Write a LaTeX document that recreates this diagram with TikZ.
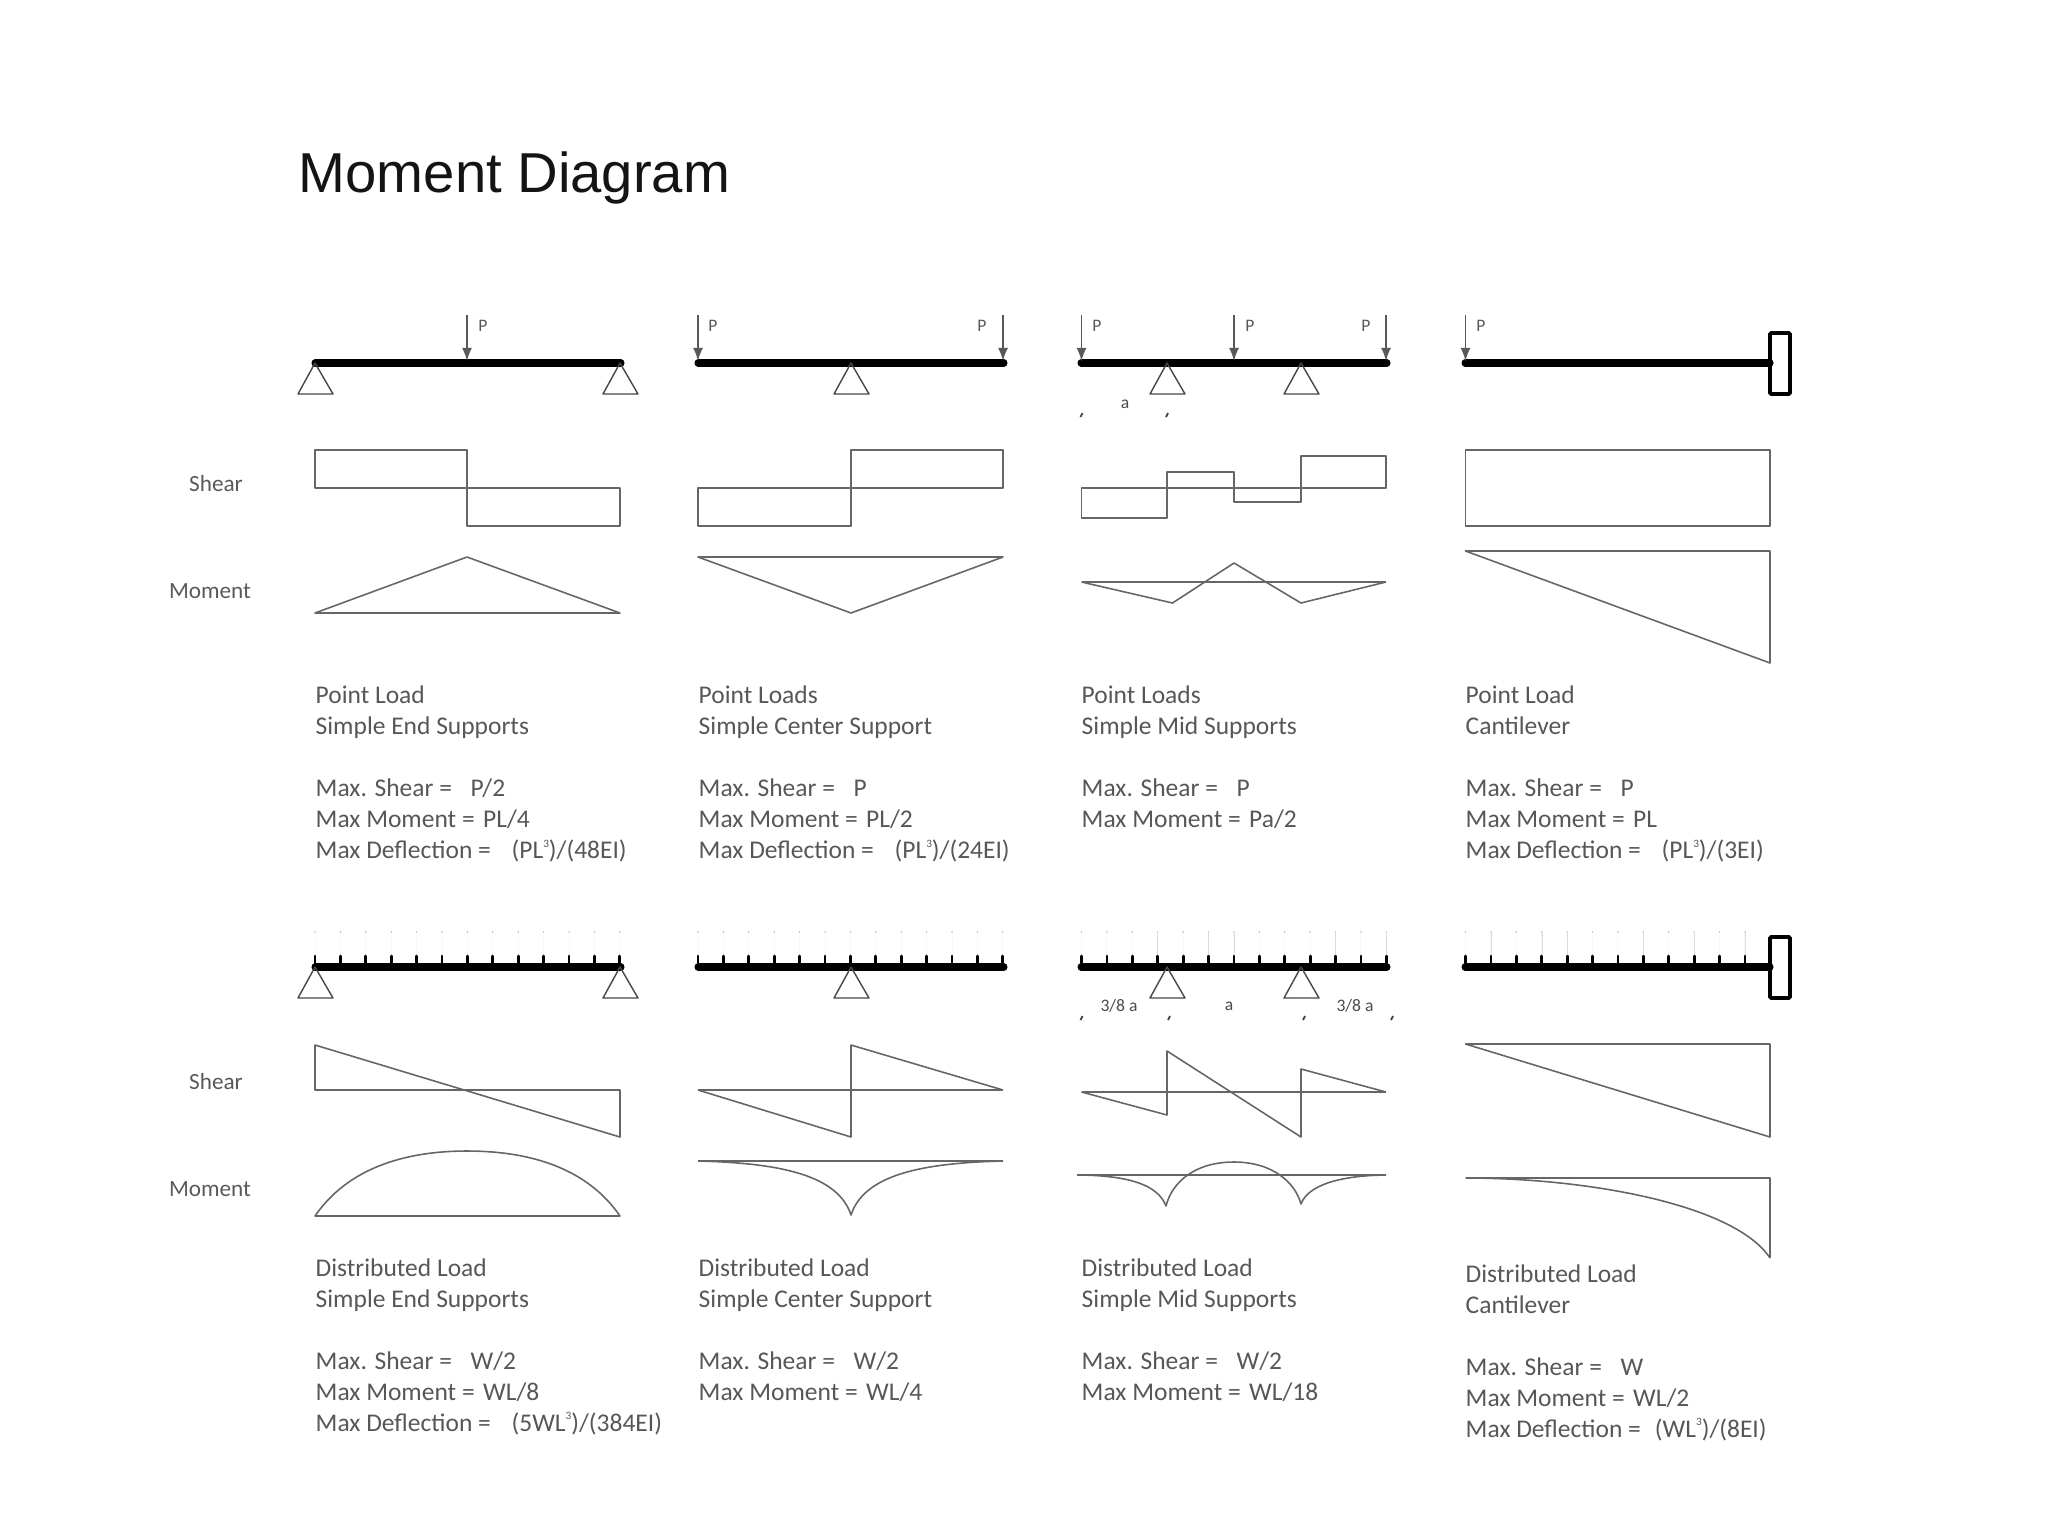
\documentclass[tikz,border=0pt]{standalone}
\usepackage{fontspec}
\usetikzlibrary{calc}
\setmainfont{Carlito}
\newfontfamily\titlefont{Liberation Sans}

\tikzset{
    beam/.style={line width=2pt,line cap=round,black},
    wall/.style={line width=1.1pt,rounded corners=0.4pt,black},
    curve/.style={line width=0.45pt,draw=black!60,line join=round},
    support/.style={line width=0.4pt,draw=black!72,line join=round},
    pointload/.style={line width=0.3pt,draw=black!65,-latex},
    stub/.style={line width=0.8pt,black,line cap=round},
    faint/.style={line width=0.25pt,draw=black!3},
    seenfaint/.style={line width=0.25pt,draw=black!14},
    dim/.style={line width=0.5pt,draw=black!75},
    sidelabel/.style={font=\fontsize{6.6}{8.8}\selectfont,text=black!65,inner sep=0pt},
    caption/.style={font=\fontsize{7.25}{8.8}\selectfont,text=black!66,align=left,anchor=north west,inner sep=0pt},
    plabel/.style={font=\fontsize{5}{6}\selectfont,text=black!65,inner sep=0pt},
    alabel/.style={font=\rmfamily\fontsize{5}{6}\selectfont,text=black!70,inner sep=0pt},
}
\newcommand{\cube}{\raisebox{0.45em}{\fontsize{3.2}{4}\selectfont 3}}
\newcommand{\shgap}{\hspace{5.3pt}}
\newcommand{\mogap}{\hspace{2.4pt}}
\newcommand{\degap}{\hspace{5.9pt}}

\begin{document}
\begin{tikzpicture}[x=0.01cm,y=-0.01cm]
    \useasboundingbox (0,0) rectangle (2048,1536);
    \node[font=\titlefont\fontsize{16}{19}\selectfont,text=black!92,anchor=base west,inner sep=0pt] (title) at (298,192) {Moment Diagram};

    % side labels
    \node[sidelabel] (shearA) at (216,484) {Shear};
    \node[sidelabel] (momentA) at (210,591) {Moment};
    \node[sidelabel] (shearB) at (216,1082) {Shear};
    \node[sidelabel] (momentB) at (210,1189) {Moment};

    % beams, both rows
    \foreach \y in {363,967} {
        \draw[beam] (315,\y)--(621,\y);
        \draw[beam] (698,\y)--(1004,\y);
        \draw[beam] (1081,\y)--(1387,\y);
        \draw[beam] (1465,\y)--(1770,\y);
    }
    \foreach \y/\t/\b in {363/333/394,967/937/998} {
        \draw[wall] (1770,\t) rectangle (1790,\b);
        % supports
        \foreach \x in {315,620,851,1167,1301} {
            \draw[support] (\x,\y)--(\x-17,\b)--(\x+18,\b)--cycle;
        }
    }

    % point loads
    \foreach \x in {467,698,1003,1081.5,1234,1386,1465.5} {
        \draw[pointload] (\x,315)--(\x,361);
    }
    \foreach \x/\n in {483/pa,713/pb,982/pc,1097/pd,1250/pe,1366/pf,1481/pg} {
        \node[plabel] (\n) at (\x,326) {P};
    }

    % distributed loads
    \foreach \xo/\last in {315/12,698/12,1081.5/12,1465.5/11} {
        \foreach \i in {0,...,\last} {
            \draw[faint] (\xo+\i*25.4,932)--(\xo+\i*25.4,955);
            \fill[black!25] (\xo+\i*25.4,932) circle (0.25pt);
            \draw[stub] (\xo+\i*25.4,956)--(\xo+\i*25.4,963);
        }
    }
    \foreach \x in {1157,1208,1234,1335,1386,1491,1542,1567,1643,1694,1745} {
        \draw[seenfaint] (\x,932)--(\x,955);
    }

    % dimension marks
    \foreach \x/\y in {1081.5/415,1167/415,1081.5/1018,1169/1018,1304/1018,1392/1018} {
        \draw[dim] (\x-1,\y+2)--(\x+1,\y-2);
    }
    \node[alabel] (dima) at (1125,404) {a};
    \node[alabel] (dimb) at (1119,1006) {3/8 a};
    \node[alabel] (dimc) at (1229,1006) {a};
    \node[alabel] (dimd) at (1355,1006) {3/8 a};

    % point load shear
    \draw[curve] (315,488)--(315,450)--(467,450)--(467,526)--(620,526)--(620,488)--cycle;
    \draw[curve] (698,488)--(698,526)--(851,526)--(851,450)--(1003,450)--(1003,488)--cycle;
    \draw[curve] (1081.5,488)--(1081.5,518)--(1167,518)--(1167,472)--(1234,472)--(1234,502)--(1301,502)--(1301,456)--(1386,456)--(1386,488)--cycle;
    \draw[curve] (1465.5,450) rectangle (1770,526);

    % point load moment
    \draw[curve] (315,613)--(467,557)--(620,613)--cycle;
    \draw[curve] (698,557)--(851,613)--(1003,557)--cycle;
    \draw[curve] (1081.5,582)--(1386,582);
    \draw[curve] (1081.5,582)--(1172.5,603)--(1234,563)--(1301,603)--(1386,582);
    \draw[curve] (1465.5,551)--(1770,551)--(1770,663)--cycle;

    % distributed shear
    \draw[curve] (315,1090)--(315,1045)--(620,1137)--(620,1090)--cycle;
    \draw[curve] (698,1090)--(1003,1090);
    \draw[curve] (698,1090)--(851,1137)--(851,1045)--(1003,1090);
    \draw[curve] (1081.5,1092)--(1386,1092);
    \draw[curve] (1081.5,1092)--(1167,1115)--(1167,1051)--(1301,1137)--(1301,1069)--(1386,1092);
    \draw[curve] (1465.5,1044)--(1770,1044)--(1770,1137)--cycle;

    % distributed moment
    \draw[curve] (315,1216) .. controls (348,1168) and (405,1151) .. (467,1151) .. controls (530,1151) and (587,1168) .. (620,1216)--cycle;
    \draw[curve] (698,1161)--(1003,1161);
    \draw[curve] (698,1161) .. controls (780,1163) and (838,1175) .. (851,1215) .. controls (864,1175) and (921,1163) .. (1003,1161);
    \draw[curve] (1077,1175)--(1386,1175);
    \draw[curve] (1081.5,1175) .. controls (1130,1176) and (1158,1185) .. (1166,1206) .. controls (1172,1182) and (1195,1162) .. (1234,1162) .. controls (1272,1162) and (1295,1182) .. (1301,1204) .. controls (1308,1185) and (1340,1175.5) .. (1386,1175);
    \draw[curve] (1465.5,1178)--(1770,1178)--(1770,1258);
    \draw[curve] (1465.5,1178) .. controls (1590,1178) and (1735,1205) .. (1770,1258);

    % captions, first row
    \node[caption] (capa) at (315,685.5) {Point Load\\Simple End Supports\\[8.8pt]Max. Shear =\shgap P/2\\Max Moment =\mogap PL/4\\Max Deflection =\degap (PL\cube)/(48EI)};
    \node[caption] (capb) at (698,685.5) {Point Loads\\Simple Center Support\\[8.8pt]Max. Shear =\shgap P\\Max Moment =\mogap PL/2\\Max Deflection =\degap (PL\cube)/(24EI)};
    \node[caption] (capc) at (1081,685.5) {Point Loads\\Simple Mid Supports\\[8.8pt]Max. Shear =\shgap P\\Max Moment =\mogap Pa/2};
    \node[caption] (capd) at (1465,685.5) {Point Load\\Cantilever\\[8.8pt]Max. Shear =\shgap P\\Max Moment =\mogap PL\\Max Deflection =\degap (PL\cube)/(3EI)};

    % captions, second row
    \node[caption] (cape) at (315,1258) {Distributed Load\\Simple End Supports\\[8.8pt]Max. Shear =\shgap W/2\\Max Moment =\mogap WL/8\\Max Deflection =\degap (5WL\cube)/(384EI)};
    \node[caption] (capf) at (698,1258) {Distributed Load\\Simple Center Support\\[8.8pt]Max. Shear =\shgap W/2\\Max Moment =\mogap WL/4};
    \node[caption] (capg) at (1081,1258) {Distributed Load\\Simple Mid Supports\\[8.8pt]Max. Shear =\shgap W/2\\Max Moment =\mogap WL/18};
    \node[caption] (caph) at (1465,1264) {Distributed Load\\Cantilever\\[8.8pt]Max. Shear =\shgap W\\Max Moment =\mogap WL/2\\Max Deflection =\hspace{4pt}(WL\cube)/(8EI)};
\end{tikzpicture}
\end{document}
